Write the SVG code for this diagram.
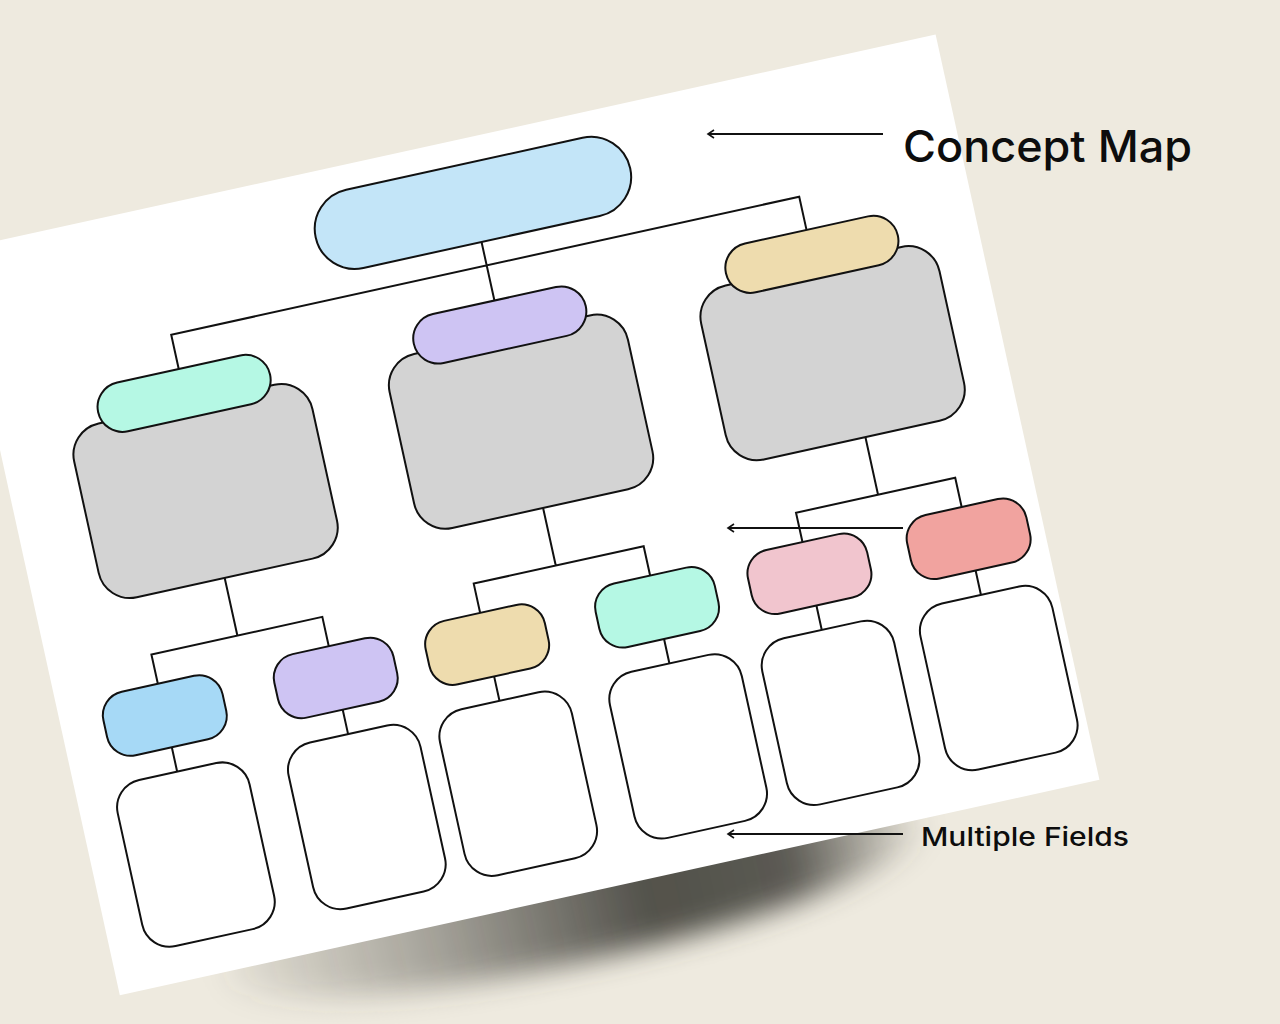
<svg xmlns="http://www.w3.org/2000/svg" width="1280" height="1024" viewBox="0 0 1280 1024">
<defs>
<style>
.n{stroke:#111;stroke-width:2}
.c{fill:none;stroke:#111;stroke-width:2}
.gray{fill:#D3D3D3}
.blank{fill:#FFFFFF}
.lbl{font-family:Inter,"Open Sans","Liberation Sans",sans-serif;font-weight:500;fill:#0d0d0d}
.arr{stroke:#111;stroke-width:1.8;fill:none}
</style>
<marker id="ah" viewBox="0 0 10 10" refX="8" refY="5" markerWidth="10" markerHeight="10" markerUnits="userSpaceOnUse" orient="auto">
<path d="M2,1 L8,5 L2,9" fill="none" stroke="#111" stroke-width="1.6"/>
</marker>
<linearGradient id="sg" x1="215" y1="0" x2="935" y2="0" gradientUnits="userSpaceOnUse">
<stop offset="0" stop-color="#4a4943" stop-opacity="0.05"/>
<stop offset="0.3" stop-color="#4a4943" stop-opacity="0.45"/>
<stop offset="0.6" stop-color="#4a4943" stop-opacity="0.95"/>
<stop offset="0.8" stop-color="#4a4943" stop-opacity="0.9"/>
<stop offset="1" stop-color="#4a4943" stop-opacity="0"/>
</linearGradient>
<filter id="blur" x="-20%" y="-60%" width="140%" height="220%">
<feGaussianBlur stdDeviation="14"/>
</filter>
</defs>
<rect width="1280" height="1024" fill="#EEEADF"/>
<g id="shadow">
<ellipse cx="575" cy="898" rx="360" ry="64" transform="rotate(-12.4 575 898)" fill="url(#sg)" filter="url(#blur)"/>
</g>
<g id="sheet-page" transform="translate(-44,250) rotate(-12.4)">
<rect id="sheet" x="0" y="0" width="1003" height="763" fill="#FFFFFF"/>
<g id="connectors">
<path class="c" d="M515,104 V165 M192,164 V129 H835 V164"/>
<path class="c" d="M192,378 V437 M104,467 V437 H279 V467"/>
<path class="c" d="M518,378 V437 M434,467 V437 H608 V467"/>
<path class="c" d="M848,378 V437 M764,467 V437 H927 V467"/>
<path class="c" d="M104,532 V557 M279,532 V557 M434,532 V557 M608,532 V557 M764,532 V557 M927,532 V557"/>
</g>
<g id="top-node"><rect class="n" x="354" y="25" width="322" height="80" rx="40" fill="#C3E5F8"/></g>
<g id="box-left"><rect class="n gray" x="70" y="200" width="244" height="178" rx="32"/></g>
<g id="box-mid"><rect class="n gray" x="393" y="200" width="244" height="178" rx="32"/></g>
<g id="box-right"><rect class="n gray" x="712" y="200" width="244" height="178" rx="32"/></g>
<g id="head-left"><rect class="n" x="104" y="164" width="176" height="50" rx="25" fill="#B5F8E4"/></g>
<g id="head-mid"><rect class="n" x="427" y="165" width="176" height="50" rx="25" fill="#CEC4F3"/></g>
<g id="head-right"><rect class="n" x="747" y="163" width="176" height="50" rx="25" fill="#EEDCAE"/></g>
<g id="sub-1"><rect class="n" x="43" y="467" width="122" height="65" rx="24" fill="#A6D9F6"/></g>
<g id="sub-2"><rect class="n" x="218" y="467" width="122" height="65" rx="24" fill="#CEC4F3"/></g>
<g id="sub-3"><rect class="n" x="373" y="467" width="122" height="65" rx="24" fill="#EEDCAE"/></g>
<g id="sub-4"><rect class="n" x="547" y="467" width="122" height="65" rx="24" fill="#B5F8E4"/></g>
<g id="sub-5"><rect class="n" x="703" y="467" width="122" height="65" rx="24" fill="#F1C5CE"/></g>
<g id="sub-6"><rect class="n" x="866" y="467" width="122" height="65" rx="24" fill="#F1A39F"/></g>
<g id="field-1"><rect class="n blank" x="37" y="557" width="135" height="170" rx="28"/></g>
<g id="field-2"><rect class="n blank" x="212" y="557" width="135" height="170" rx="28"/></g>
<g id="field-3"><rect class="n blank" x="367" y="557" width="135" height="170" rx="28"/></g>
<g id="field-4"><rect class="n blank" x="541" y="557" width="135" height="170" rx="28"/></g>
<g id="field-5"><rect class="n blank" x="697" y="557" width="135" height="170" rx="28"/></g>
<g id="field-6"><rect class="n blank" x="859" y="557" width="135" height="170" rx="28"/></g>
</g>
<g id="annotations">
<line class="arr" x1="883" y1="134" x2="708" y2="134" marker-end="url(#ah)"/>
<line class="arr" x1="903" y1="528" x2="728" y2="528" marker-end="url(#ah)"/>
<line class="arr" x1="903" y1="834" x2="728" y2="834" marker-end="url(#ah)"/>
<text class="lbl" x="903" y="162" font-size="44" textLength="289" lengthAdjust="spacingAndGlyphs">Concept Map</text>
<text class="lbl" x="921" y="846" font-size="26" textLength="208" lengthAdjust="spacingAndGlyphs">Multiple Fields</text>
</g>
</svg>
